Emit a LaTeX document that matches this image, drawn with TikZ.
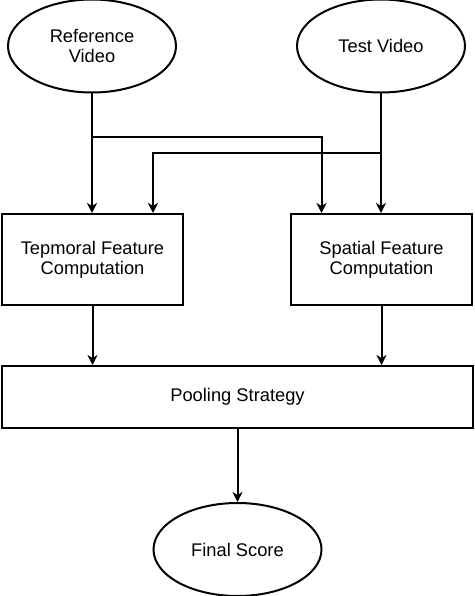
\documentclass[tikz,border=0pt]{standalone}
\usepackage{fontspec}
\setmainfont{Liberation Sans}
\usetikzlibrary{shapes.geometric,arrows.meta}
\begin{document}
\begin{tikzpicture}[x=1pt,y=-1pt,
  every node/.style={font=\fontsize{18.3}{20}\selectfont, align=center, line width=2pt, draw, inner sep=0pt},
  oval/.style={ellipse, minimum width=168pt, minimum height=93pt},
  box/.style={rectangle, minimum width=181pt, minimum height=91pt},
  arr/.style={line width=2pt, -{Stealth[length=10pt,width=10pt,inset=3pt]}}]
\useasboundingbox (0,0) rectangle (474,596);
\node[oval] (ref) at (92,46) {Reference\\Video};
\node[oval] (tst) at (381,46) {Test Video};
\node[box] (tmp) at (92.5,259.5) {Tepmoral Feature\\Computation};
\node[box] (sp) at (381.5,259.5) {Spatial Feature\\Computation};
\node[rectangle, minimum width=471pt, minimum height=62pt] (pool) at (237.5,397) {Pooling Strategy};
\node[oval] (fin) at (237.5,549.5) {Final Score};
\coordinate (j1) at (92,137);
\coordinate (j2) at (381,153);
\draw[arr] (ref.south) -- (ref.south |- tmp.north);
\draw[arr] (tst.south) -- (tst.south |- sp.north);
\draw[arr] (j1) -| ([xshift=-60pt]sp.north);
\draw[arr] (j2) -| ([xshift=60.5pt]tmp.north);
\draw[arr] (tmp.south) -- (tmp.south |- pool.north);
\draw[arr] (sp.south) -- (sp.south |- pool.north);
\draw[arr] (pool.south) -- (fin.north);
\end{tikzpicture}
\end{document}
